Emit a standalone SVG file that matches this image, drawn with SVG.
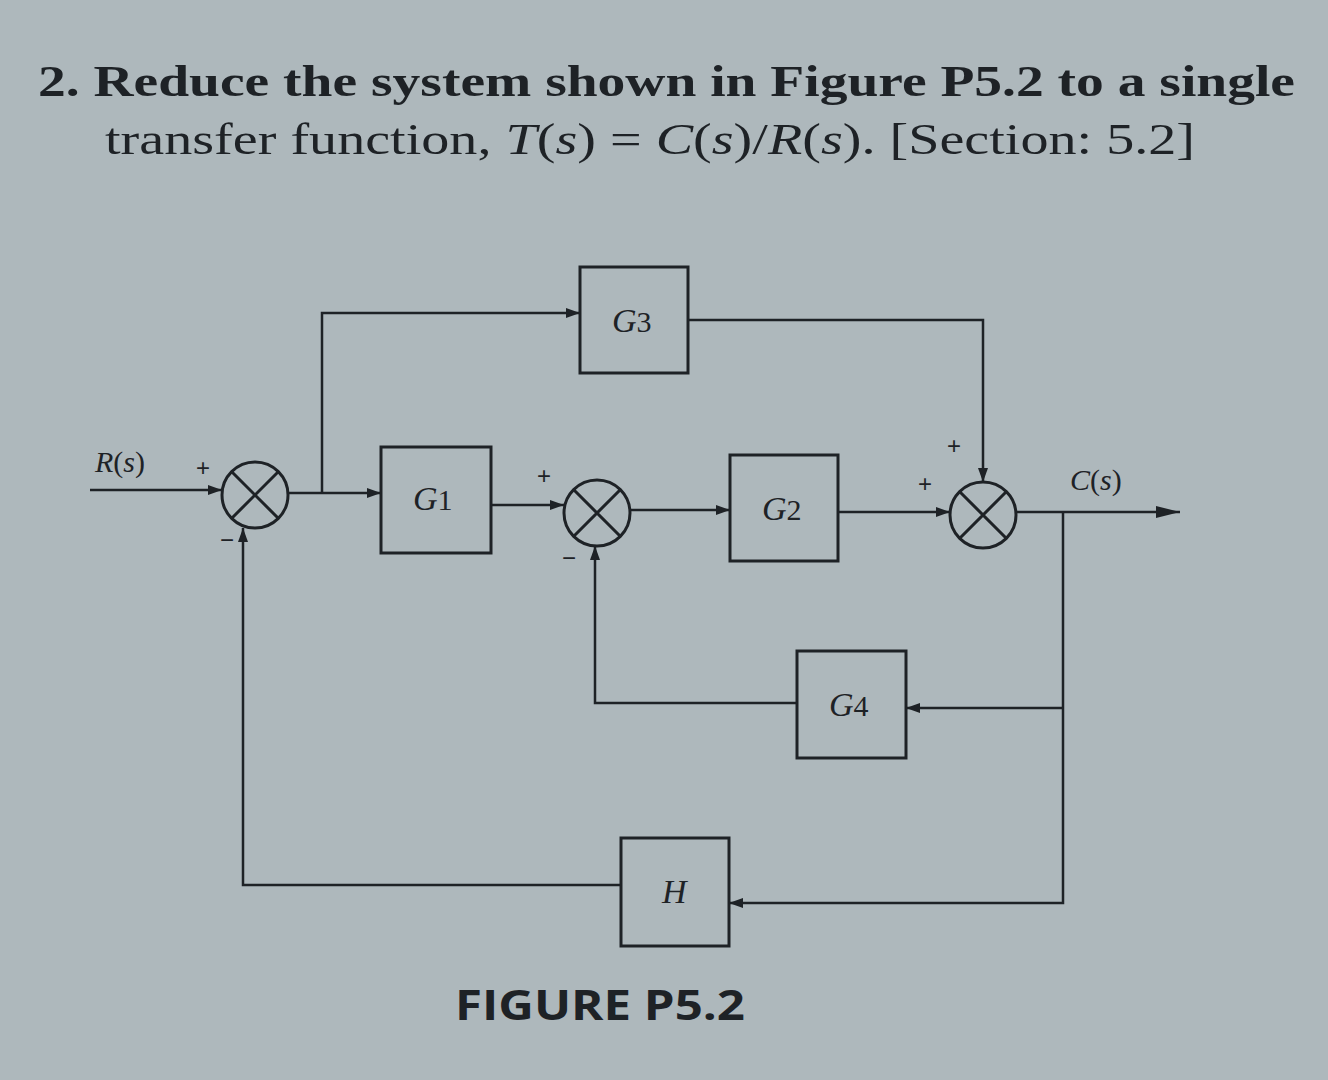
<svg xmlns="http://www.w3.org/2000/svg" width="1328" height="1080" viewBox="0 0 1328 1080">
<style>
.t{font-family:"Liberation Serif",serif;fill:#1e2226}
.b{fill:none;stroke:#1e2226;stroke-width:3}
.l{fill:none;stroke:#1e2226;stroke-width:2.5}
.g{font-family:"Liberation Serif",serif;font-style:italic;font-size:34px;fill:#1e2226}
.s{font-family:"Liberation Sans",sans-serif;font-size:24px;fill:#1e2226}
</style>
<defs>
<marker id="a" markerWidth="14" markerHeight="10" refX="14" refY="5" orient="auto" markerUnits="userSpaceOnUse" viewBox="0 0 14 10">
<path d="M0,0 L14,5 L0,10 Z" fill="#1e2226"/></marker>
<marker id="A" markerWidth="24" markerHeight="12" refX="24" refY="6" orient="auto" markerUnits="userSpaceOnUse" viewBox="0 0 24 12">
<path d="M0,0 L24,6 L0,12 Z" fill="#1e2226"/></marker>
</defs>
<rect width="1328" height="1080" fill="#aeb8bc"/>
<text class="t" x="38" y="96" font-size="44" font-weight="bold" textLength="1257" lengthAdjust="spacingAndGlyphs">2. Reduce the system shown in Figure P5.2 to a single</text>
<text class="t" x="105" y="154" font-size="44" textLength="1090" lengthAdjust="spacingAndGlyphs">transfer function, <tspan font-style="italic">T</tspan>(<tspan font-style="italic">s</tspan>) = <tspan font-style="italic">C</tspan>(<tspan font-style="italic">s</tspan>)/<tspan font-style="italic">R</tspan>(<tspan font-style="italic">s</tspan>). [Section: 5.2]</text>
<g id="connectors" class="l">
<path d="M90,490 H222" marker-end="url(#a)"/>
<path d="M288,493 H381" marker-end="url(#a)"/>
<path d="M322,493 V313 H580" marker-end="url(#a)"/>
<path d="M688,320 H983 V482" marker-end="url(#a)"/>
<path d="M491,505 H564" marker-end="url(#a)"/>
<path d="M630,510 H730" marker-end="url(#a)"/>
<path d="M838,512 H950" marker-end="url(#a)"/>
<path d="M1016,512 H1180" marker-end="url(#A)"/>
<path d="M1063,512 V903 H729" marker-end="url(#a)"/>
<path d="M1063,708 H906" marker-end="url(#a)"/>
<path d="M797,703 H595 V546" marker-end="url(#a)"/>
<path d="M621,885 H243 V528" marker-end="url(#a)"/>
</g>
<g id="sum1"><circle class="b" cx="255" cy="495" r="33"/><path class="b" d="M232,472 L278,518 M278,472 L232,518"/></g>
<g id="sum2"><circle class="b" cx="597" cy="513" r="33"/><path class="b" d="M574,490 L620,536 M620,490 L574,536"/></g>
<g id="sum3"><circle class="b" cx="983" cy="515" r="33"/><path class="b" d="M960,492 L1006,538 M1006,492 L960,538"/></g>
<g id="G3"><rect class="b" x="580" y="267" width="108" height="106"/><text class="g" x="612" y="332">G<tspan font-style="normal" font-size="30">3</tspan></text></g>
<g id="G1"><rect class="b" x="381" y="447" width="110" height="106"/><text class="g" x="413" y="510">G<tspan font-style="normal" font-size="30">1</tspan></text></g>
<g id="G2"><rect class="b" x="730" y="455" width="108" height="106"/><text class="g" x="762" y="520">G<tspan font-style="normal" font-size="30">2</tspan></text></g>
<g id="G4"><rect class="b" x="797" y="651" width="109" height="107"/><text class="g" x="829" y="716">G<tspan font-style="normal" font-size="30">4</tspan></text></g>
<g id="H"><rect class="b" x="621" y="838" width="108" height="108"/><text class="g" x="662" y="903">H</text></g>
<g id="labels">
<text class="t" x="95" y="472" font-size="30"><tspan font-style="italic">R</tspan>(<tspan font-style="italic">s</tspan>)</text>
<text class="t" x="1070" y="490" font-size="30"><tspan font-style="italic">C</tspan>(<tspan font-style="italic">s</tspan>)</text>
<text class="s" x="196" y="476">+</text>
<text class="s" x="220" y="548">−</text>
<text class="s" x="537" y="484">+</text>
<text class="s" x="562" y="566">−</text>
<text class="s" x="947" y="454">+</text>
<text class="s" x="918" y="492">+</text>
<text x="455" y="1020" font-family="'Open Sans','Liberation Sans',sans-serif" font-weight="bold" font-size="42" fill="#1e2226" textLength="290" lengthAdjust="spacingAndGlyphs">FIGURE P5.2</text>
</g>
</svg>
